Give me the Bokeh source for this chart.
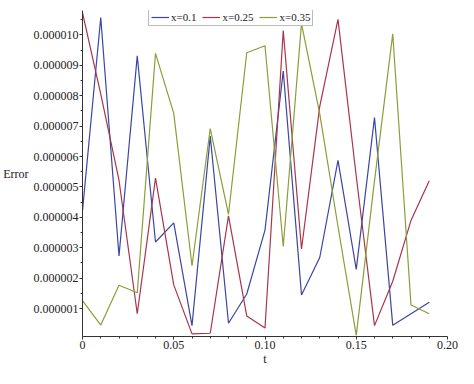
from bokeh.plotting import figure
from bokeh.models import Range1d, FixedTicker, PrintfTickFormatter
from bokeh.embed import file_html
from bokeh.resources import INLINE

t = [0.00, 0.01, 0.02, 0.03, 0.04, 0.05, 0.06, 0.07, 0.08, 0.09,
     0.10, 0.11, 0.12, 0.13, 0.14, 0.15, 0.16, 0.17, 0.18, 0.19]

err_x01 = [4.22e-6, 10.57e-6, 2.73e-6, 9.31e-6, 3.19e-6, 3.82e-6, 0.44e-6, 6.67e-6, 0.52e-6, 1.48e-6,
           3.58e-6, 8.81e-6, 1.45e-6, 2.68e-6, 5.87e-6, 2.29e-6, 7.28e-6, 0.45e-6, 0.83e-6, 1.21e-6]
err_x025 = [10.73e-6, 8.05e-6, 5.22e-6, 0.83e-6, 5.29e-6, 1.78e-6, 0.17e-6, 0.19e-6, 4.05e-6, 0.76e-6,
            0.36e-6, 10.14e-6, 2.96e-6, 7.65e-6, 10.51e-6, 5.35e-6, 0.44e-6, 1.90e-6, 3.90e-6, 5.20e-6]
err_x035 = [1.26e-6, 0.46e-6, 1.77e-6, 1.52e-6, 9.39e-6, 7.42e-6, 2.41e-6, 6.92e-6, 4.10e-6, 9.41e-6,
            9.64e-6, 3.04e-6, 10.37e-6, 7.40e-6, 3.70e-6, 0.12e-6, 5.20e-6, 10.03e-6, 1.12e-6, 0.83e-6]

series_labels = ["x=0.1", "x=0.25", "x=0.35"]
series_colors = ["#3A46A2", "#A8354C", "#8A9E3A"]

x_ticks = [0.0, 0.05, 0.10, 0.15, 0.20]
x_minor = [0.01, 0.02, 0.03, 0.04, 0.06, 0.07, 0.08, 0.09, 0.11, 0.12, 0.13, 0.14,
           0.16, 0.17, 0.18, 0.19]
y_ticks = [0.000001, 0.000002, 0.000003, 0.000004, 0.000005,
           0.000006, 0.000007, 0.000008, 0.000009, 0.000010]
y_minor = [0.0000015, 0.0000025, 0.0000035, 0.0000045, 0.0000055,
           0.0000065, 0.0000075, 0.0000085, 0.0000095, 0.0000105]

FONT = "Liberation Serif"

p = figure(width=458, height=368, output_backend="svg", toolbar_location=None,
           x_range=Range1d(0, 0.2), y_range=Range1d(0.083e-6, 10.8e-6),
           min_border_left=75, min_border_right=11, min_border_top=10, min_border_bottom=31)
p.outline_line_color = None
p.xgrid.visible = False
p.ygrid.visible = False
p.background_fill_color = "white"
p.border_fill_color = "white"

for ys, lab, col in zip([err_x01, err_x025, err_x035], series_labels, series_colors):
    p.line(t, ys, line_color=col, line_width=1.2, legend_label=lab)

p.xaxis.ticker = FixedTicker(ticks=x_ticks, minor_ticks=x_minor)
p.xaxis.formatter = PrintfTickFormatter(format="%.2f")
p.xaxis.major_label_overrides = {0: "0"}
p.yaxis.ticker = FixedTicker(ticks=y_ticks, minor_ticks=y_minor)
p.yaxis.formatter = PrintfTickFormatter(format="%.6f")

for ax in (p.xaxis[0], p.yaxis[0]):
    ax.axis_line_color = "#333333"
    ax.major_tick_line_color = "#333333"
    ax.minor_tick_line_color = "#333333"
    ax.major_tick_out = 3
    ax.major_tick_in = 0
    ax.minor_tick_out = 2
    ax.minor_tick_in = 0
    ax.major_label_text_font = FONT
    ax.major_label_text_font_size = "12px"
    ax.major_label_text_color = "#222222"
    ax.axis_label_text_font = FONT
    ax.axis_label_text_font_size = "12px"
    ax.axis_label_text_font_style = "normal"
    ax.axis_label_text_color = "#222222"

xa = p.xaxis[0]
xa.axis_label = "t"
xa.major_label_standoff = 1
xa.axis_label_standoff = 0

ya = p.yaxis[0]
ya.axis_label = "Error"
ya.major_label_standoff = 1
ya.axis_label_standoff = 2
if "axis_label_orientation" in ya.properties():
    ya.axis_label_orientation = "horizontal"

lg = p.legend[0]
lg.orientation = "horizontal"
lg.location = (66, 310)
lg.label_text_font = FONT
lg.label_text_font_size = "11px"
lg.label_text_color = "#222222"
lg.label_height = 12
lg.glyph_height = 12
lg.glyph_width = 18
lg.label_standoff = 2
lg.spacing = 6
lg.padding = 2
lg.margin = 0
lg.border_line_color = "#777777"
lg.border_line_width = 1
lg.background_fill_alpha = 1.0

open("out.html", "w").write(file_html(p, INLINE))
